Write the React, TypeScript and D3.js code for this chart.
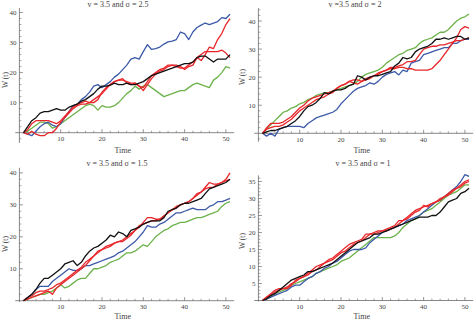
import React from "react";
import * as d3 from "d3";

const times = d3.range(1, 52);

const titles = ["v = 3.5 and σ = 2.5", "v =3.5 and σ = 2", "v = 3.5 and σ = 1.5", "v = 3.5 and σ = 1"];

const p1Blue = [0, -0.5, -1, 0.5, 2, 3, 3.5, 2.5, 2, 3, 5, 7, 9, 9.5, 11, 12, 13.5, 15.5, 16, 15, 16, 17, 18.5, 19.5, 21, 22.5, 24.5, 25, 24.5, 27, 29.3, 27.7, 28, 28.5, 29.5, 30.2, 30.5, 31, 33.5, 33, 31, 33.5, 35, 35.8, 36.5, 36, 36.5, 37, 38.3, 38, 39.4];
const p1RedA = [0, -0.5, 0.5, -0.5, -1, -1, 0, 0, 1.5, 3.5, 5, 6.5, 8, 9, 9.5, 9.5, 10, 11, 12, 13, 14.5, 16, 17, 17.5, 17.5, 17, 16.5, 16.5, 15.5, 14, 16, 18, 19.5, 20.5, 21, 22, 22.5, 22.5, 22, 21, 22, 22.5, 25, 24, 26, 28.5, 28, 31, 33, 36, 38];
const p1RedB = [0, 1, 3, 4, 4, 4, 4, 3.5, 3, 4, 5.5, 7, 8.5, 9.5, 10, 10.5, 10, 10, 11, 13.5, 15, 16, 17, 17.5, 18, 16.5, 16, 16.5, 15.5, 15, 17, 19, 20, 21, 21.5, 22.5, 22.5, 22, 21.5, 21.5, 22.5, 23.5, 25, 26, 27, 27, 27, 27, 27.5, 26.5, 25];
const p1Green = [0, 0.5, 1.5, 2.5, 3.5, 3.5, 3, 1.5, 2, 3, 4, 5, 6, 7, 8, 9, 9.5, 9, 7.5, 9, 8.5, 8.5, 9, 10, 11.5, 13, 14, 15.5, 14.5, 15.5, 16, 15, 14, 13, 12, 12.5, 13, 13.5, 14, 14, 15, 16, 16.5, 16, 15.5, 15, 17.5, 18.5, 20, 22, 21.5];
const p1Black = [0, 2, 4, 5, 6.5, 7, 7, 7.5, 8, 7.5, 7.5, 8.5, 9, 9.5, 10.5, 11, 12, 13, 14.5, 15.5, 15.5, 15.8, 16.5, 16, 16, 16.5, 16, 16, 16.5, 17, 18, 19, 19.5, 20, 20.5, 21, 21.5, 22, 22.5, 23, 23, 23.5, 25, 25.5, 25.5, 24.5, 23.5, 24.5, 24.5, 24.5, 26];

const p2Green = [0, 1.5, 3, 4.5, 6, 7.5, 8, 9, 9.5, 10.5, 11, 12, 12.5, 13.5, 14, 14.5, 14.5, 15, 15.5, 16, 16.5, 17, 17.5, 18.5, 20, 21, 21.5, 22, 22.5, 23.5, 25, 26, 27, 28, 28.5, 29.5, 30, 30.5, 32, 33, 33.5, 34, 35, 36, 36, 37, 38.5, 40, 41, 41.5, 42.5];
const p2Blue = [0, -1, 0, -1, 1.5, 2, 2.5, 2.5, 2.5, 2.5, 2, 3.5, 4.5, 5.5, 6, 6.5, 7, 7.5, 8.5, 10.5, 12, 13.5, 15, 16, 16.5, 17, 18, 17.5, 18.5, 20, 21, 21.5, 22, 20.8, 22.5, 22, 25, 25.5, 26, 28, 28.5, 29, 29.5, 30, 30.5, 30.5, 32, 32, 33, 33.5, 33.5];
const p2Black = [0, 0.5, 1, 1, 1.5, 2, 2.5, 3.5, 4.5, 6, 8, 9.5, 10, 11, 12.5, 14.5, 14, 15, 15.5, 15.5, 16, 17, 17.5, 20.5, 20, 19, 20, 20.5, 20.5, 21, 21.5, 22, 24, 25, 27, 26.5, 27, 29, 30, 30.5, 31, 32, 33.5, 33.5, 34, 33.5, 34, 34.5, 34.5, 33.5, 34];
const p2RedA = [0, 2, 3.5, 3.5, 3.5, 4, 5, 6, 7.5, 9, 10, 11.5, 12.5, 13, 13.5, 14, 14.5, 15, 16, 17, 17.5, 18.5, 19, 19, 18.5, 19, 19.5, 20.5, 21.5, 22, 22.5, 23, 23, 23.5, 23.5, 23, 23, 22.5, 22.5, 22.5, 22.5, 23, 24.5, 26, 28, 30, 32, 34, 37, 38, 37.5];
const p2RedB = [0, 1.5, 2, 2.5, 2.5, 3, 4, 5, 6.5, 8, 9, 10, 11, 12, 12.5, 13, 14, 14.5, 16, 17, 17.5, 18.5, 18, 17.5, 18.5, 19.5, 20, 20.5, 21, 22, 22.5, 23.5, 23.5, 24, 24.5, 25.5, 25.5, 26, 28, 30, 30.5, 31, 31, 31.5, 31.5, 32, 32.5, 33, 33, 33.5, 34];

const p3Black = [0, 1, 2, 3.5, 5.5, 7, 7, 8, 9, 10, 11.5, 12, 12.5, 11, 12, 14, 15.5, 16.5, 17, 18, 19, 20.5, 20, 21.5, 21, 20, 22, 22.5, 23, 24, 24.5, 25, 25, 25, 26, 28, 28.5, 29, 30, 30.5, 30.5, 31, 31.5, 32, 33.5, 35, 35.5, 36, 36.5, 37, 38];
const p3Blue = [0, 1, 2, 3.5, 4.5, 4.5, 4.5, 6, 7, 8, 9, 10, 9.5, 9.5, 10, 11, 11, 11.5, 12, 12.5, 13, 13.5, 14, 15, 15.5, 16.5, 17.5, 18.5, 20, 21.5, 23.5, 23, 23, 24, 24.5, 25.5, 26.5, 27.5, 27.5, 28, 28.5, 29, 28.5, 28.5, 28.5, 29.5, 30, 31, 31, 31.5, 32];
const p3Green = [0, 0.5, 1, 1.5, 2, 2, 2.5, 3, 4, 5, 4, 4.5, 5.5, 6.5, 7, 7, 8.5, 10, 10, 10.5, 11, 12, 12.5, 13, 14, 15, 15, 15.5, 16.5, 17.5, 17, 18.5, 20, 21, 22, 22.5, 23.5, 24, 24.5, 24.5, 25, 25.5, 26, 26, 26.5, 27, 27.5, 28, 29.5, 30.5, 31];
const p3RedA = [0, 0.5, 1, 1.5, 2, 2.5, 3, 2, 4, 5, 6, 7, 8, 9, 10, 11, 12.5, 14, 15, 16, 16.5, 17, 18, 18.5, 19, 20, 21, 22, 23, 24.5, 26, 26, 25.5, 25.5, 26.5, 27.5, 28.5, 29.5, 30, 30.5, 31, 32, 33, 34, 35.5, 37, 36.5, 36.5, 37, 38, 40];
const p3RedB = [0, 1, 1.5, 2.5, 3, 3, 3.5, 4, 5, 5.5, 6.5, 7.5, 8.5, 9.5, 10.5, 12, 13, 14, 15.5, 16, 17, 17.5, 18, 18.5, 18.5, 19.5, 20.5, 22, 23.5, 24, 24.5, 25, 25, 25.5, 26.5, 27.5, 28.5, 29, 30, 30.5, 31, 32, 33.5, 34, 35, 35.5, 35.5, 36.5, 37, 37.5, 38];

const p4Black = [0, 0.5, 1.5, 2, 3, 4, 5, 6, 6.5, 7, 7.5, 8.5, 8.5, 9, 9.5, 10, 10.5, 11, 12, 13, 14, 15, 16, 17, 17.5, 18, 18.5, 19.5, 19.5, 20, 20.5, 21, 21.5, 22, 22.5, 23, 23.5, 24, 24.5, 24.5, 24.5, 25, 25, 26, 27.5, 29, 29.5, 30, 31.5, 32, 33];
const p4Blue = [0, 0.5, 1, 1.5, 2, 2.5, 3, 4, 4.5, 4.5, 5.5, 6.5, 7, 8, 8.5, 9.5, 10, 11, 11.5, 12.5, 13.5, 14.5, 15, 15, 15, 15.5, 17, 18, 19, 20, 20.5, 21, 21.5, 22, 22.5, 23.5, 24, 24.5, 25, 26, 27, 28, 29, 29.5, 30.5, 31.5, 32.5, 33.5, 35, 37, 36.5];
const p4Green = [0, 0.5, 1, 2, 2.5, 3, 3.5, 4.5, 5, 5.5, 6, 6.5, 7, 8, 8.5, 9, 9.5, 10, 10.5, 11.5, 12, 12.5, 13.5, 14.5, 15.5, 16.5, 17.5, 18.5, 18.5, 18.5, 18.5, 18.5, 19, 20, 21.5, 22.5, 23.5, 24, 25, 26, 26.5, 27, 28, 29, 30, 31, 31.5, 32, 33, 34, 34];
const p4RedA = [0, 1, 2, 3, 3.5, 3.5, 3.5, 4.5, 6, 6.5, 7, 8, 9, 10, 10.5, 11, 12, 12.5, 13.5, 14.5, 15.5, 16.5, 17, 17.5, 18, 19.5, 19.5, 19.5, 20, 20.5, 21, 21.5, 22, 23.5, 23.5, 24, 25, 26, 26.5, 28, 27.5, 28.5, 29, 29.5, 30.5, 31.5, 32.5, 33, 34, 35, 35.5];
const p4RedB = [0, 1, 1.5, 2.5, 3, 3.5, 4, 5, 5.5, 6.5, 7, 7.5, 8.5, 9, 10, 11, 11.5, 12, 13, 14, 14.5, 15.5, 16.5, 17, 17.5, 18.5, 19.5, 20, 20.5, 20.5, 20.5, 21, 21.5, 22.5, 23.5, 24.5, 25.5, 26.5, 27, 27.5, 28, 28.5, 29, 30, 30.5, 31, 32, 33, 33.5, 34.5, 35];

const BLUE = "#3d5aa8";
const RED = "#e8262a";
const GREEN = "#6cb24a";
const BLACK = "#111111";

type Panel = {
  title: string;
  titleX: number;
  titleY: number;
  xRange: [number, number];
  yRange: [number, number];
  yMax: number;
  yMin: number;
  yMajor: number[];
  yMinorStep: number;
  wLabel: [number, number];
  timeLabel: [number, number];
  series: { values: number[]; color: string }[];
};

const panels: Panel[] = [
  {
    title: titles[0], titleX: 118, titleY: 7,
    xRange: [19.4, 19.4 + 41.3 * 5], yRange: [132.7, 12.5],
    yMax: 41.5, yMin: -3.4, yMajor: [10, 20, 30, 40], yMinorStep: 2,
    wLabel: [5, 80], timeLabel: [122.7, 153],
    series: [
      { values: p1Green, color: GREEN },
      { values: p1Blue, color: BLUE },
      { values: p1RedB, color: RED },
      { values: p1RedA, color: RED },
      { values: p1Black, color: BLACK },
    ],
  },
  {
    title: titles[1], titleX: 355, titleY: 7,
    xRange: [258.4, 258.4 + 41.3 * 5], yRange: [133.3, 21],
    yMax: 44.6, yMin: -3, yMajor: [10, 20, 30, 40], yMinorStep: 2,
    wLabel: [242, 77], timeLabel: [361.7, 153],
    series: [
      { values: p2Green, color: GREEN },
      { values: p2Blue, color: BLUE },
      { values: p2RedB, color: RED },
      { values: p2RedA, color: RED },
      { values: p2Black, color: BLACK },
    ],
  },
  {
    title: titles[2], titleX: 117, titleY: 166,
    xRange: [19.4, 19.4 + 41.3 * 5], yRange: [300.7, 172.9],
    yMax: 41.6, yMin: -0.4, yMajor: [10, 20, 30, 40], yMinorStep: 2,
    wLabel: [5, 244], timeLabel: [122.7, 319],
    series: [
      { values: p3Green, color: GREEN },
      { values: p3Blue, color: BLUE },
      { values: p3RedB, color: RED },
      { values: p3RedA, color: RED },
      { values: p3Black, color: BLACK },
    ],
  },
  {
    title: titles[3], titleX: 363, titleY: 166,
    xRange: [258.4, 258.4 + 41.3 * 5], yRange: [300.5, 181.5],
    yMax: 36.8, yMin: -0.3, yMajor: [5, 10, 15, 20, 25, 30, 35], yMinorStep: 1,
    wLabel: [242, 241], timeLabel: [361.7, 319],
    series: [
      { values: p4Green, color: GREEN },
      { values: p4Blue, color: BLUE },
      { values: p4RedB, color: RED },
      { values: p4RedA, color: RED },
      { values: p4Black, color: BLACK },
    ],
  },
];

const xMajor = [10, 20, 30, 40, 50];
const AXIS = "#6a6a6a";
const TEXT = "#444444";
const FONT = "'Liberation Serif', 'DejaVu Serif', serif";

function PanelView({ p }: { p: Panel }) {
  const x = d3.scaleLinear().domain([0, 50]).range(p.xRange);
  const yTop = p.yMajor[p.yMajor.length - 1];
  const y = d3.scaleLinear().domain([0, yTop]).range(p.yRange);
  const line = d3
    .line<number>()
    .x((_, i) => x(times[i]))
    .y((v) => y(v));
  const x0 = x(0);
  const y0 = y(0);
  const xMinor = d3.range(-0, 52, 2).filter((t) => t % 10 !== 0);
  const yMinor = d3
    .range(Math.ceil(p.yMin / p.yMinorStep) * p.yMinorStep, p.yMax, p.yMinorStep)
    .filter((v) => !p.yMajor.includes(v) && v !== 0);
  return (
    <g>
      <text x={p.titleX} y={p.titleY} textAnchor="middle" fontSize={8} fill={TEXT} fontFamily={FONT}>
        {p.title}
      </text>
      <line x1={x(-1)} x2={x(52)} y1={y0} y2={y0} stroke={AXIS} strokeWidth={0.8} />
      <line x1={x0} x2={x0} y1={y(p.yMin)} y2={y(p.yMax)} stroke={AXIS} strokeWidth={0.8} />
      {xMajor.map((t) => (
        <g key={"xm" + t}>
          <line x1={x(t)} x2={x(t)} y1={y0} y2={y0 - 3.5} stroke={AXIS} strokeWidth={0.7} />
          <text x={x(t)} y={y0 + 8.5} textAnchor="middle" fontSize={7} fill={TEXT} fontFamily={FONT}>
            {t}
          </text>
        </g>
      ))}
      {xMinor.map((t) => (
        <line key={"xn" + t} x1={x(t)} x2={x(t)} y1={y0} y2={y0 - 2} stroke={AXIS} strokeWidth={0.6} />
      ))}
      {p.yMajor.map((v) => (
        <g key={"ym" + v}>
          <line x1={x0} x2={x0 + 3.5} y1={y(v)} y2={y(v)} stroke={AXIS} strokeWidth={0.7} />
          <text x={x0 - 3} y={y(v) + 2.5} textAnchor="end" fontSize={7} fill={TEXT} fontFamily={FONT}>
            {v}
          </text>
        </g>
      ))}
      {yMinor.map((v) => (
        <line key={"yn" + v} x1={x0} x2={x0 + 2} y1={y(v)} y2={y(v)} stroke={AXIS} strokeWidth={0.6} />
      ))}
      <text
        transform={`translate(${p.wLabel[0] + 2.5},${p.wLabel[1]}) rotate(-90)`}
        textAnchor="middle"
        fontSize={7.5}
        fill={TEXT}
        fontFamily={FONT}
      >
        W (t)
      </text>
      <text x={p.timeLabel[0]} y={p.timeLabel[1]} textAnchor="middle" fontSize={8} fill={TEXT} fontFamily={FONT}>
        Time
      </text>
      {p.series.map((s, i) => (
        <path key={i} d={line(s.values) || ""} fill="none" stroke={s.color} strokeWidth={1.3} strokeLinejoin="round" />
      ))}
    </g>
  );
}

export default function App() {
  return (
    <svg
      width={474}
      height={322}
      style={{ position: "absolute", left: 0, top: 0, display: "block", background: "#fff" }}
    >
      {panels.map((p, i) => (
        <PanelView key={i} p={p} />
      ))}
    </svg>
  );
}
